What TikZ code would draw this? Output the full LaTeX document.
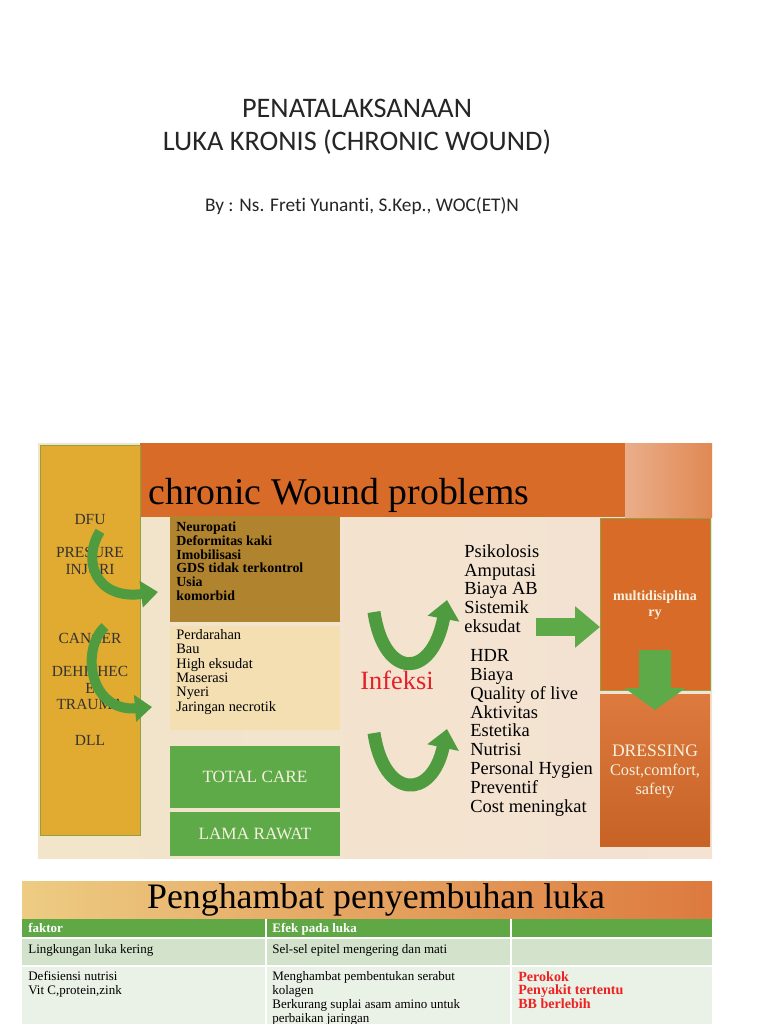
\documentclass[tikz,border=0pt]{standalone}
\usepackage{fontspec}
\setmainfont{Liberation Serif}
\newfontfamily\titlefont[Ligatures=CommonOff]{Carlito}
\usepackage{xcolor}
\usetikzlibrary{arrows.meta, positioning, calc}

\definecolor{hdrorange}{HTML}{D96B29}
\definecolor{colgold}{HTML}{E1AA30}
\definecolor{oliveline}{HTML}{93A042}
\definecolor{boxbrown}{HTML}{B0832F}
\definecolor{boxbeige}{HTML}{F3DFB1}
\definecolor{slidecream}{HTML}{F2E5C9}
\definecolor{slidewhite}{HTML}{F8F5EF}
\definecolor{cardgreen}{HTML}{5EAA48}
\definecolor{cardtext}{HTML}{F4F1DE}
\definecolor{arrowgreen}{HTML}{4F9C40}
\definecolor{infred}{HTML}{E4202B}
\definecolor{tblgreen}{HTML}{5FA845}
\definecolor{rowone}{HTML}{D3E3CB}
\definecolor{rowtwo}{HTML}{EAF1E6}
\definecolor{tblred}{HTML}{EE2222}

\begin{document}
\begin{tikzpicture}[
    x=0.02cm, y=-0.02cm,
    titletext/.style={font=\titlefont\fontsize{16.1}{18.7}\selectfont, align=center, text=black!85},
    bytext/.style={font=\titlefont\fontsize{11}{12}\selectfont, text=black!85},
    panel/.style={inner sep=0, outer sep=0},
    coltext/.style={font=\fontsize{8.8}{9.6}\selectfont, align=center, text=black!80},
    boxtext/.style={font=\fontsize{8.2}{8.2}\selectfont, align=left, anchor=north west, inner sep=0},
    listtext/.style={font=\fontsize{10.5}{10.75}\selectfont, align=left, anchor=north west, inner sep=0},
    cardlabel/.style={font=\fontsize{9.8}{11}\selectfont, text=cardtext},
    curvearrow/.style={draw=arrowgreen, line width=0.2cm, -{Triangle[length=0.34cm, width=0.52cm]}},
    uarrow/.style={draw=arrowgreen, line width=0.26cm, -{Triangle[length=0.38cm, width=0.62cm]}},
    blockarrow/.style={draw=cardgreen, -{Triangle[length=0.5cm, width=0.8cm]}},
    cell/.style={font=\fontsize{7.4}{7.9}\selectfont, align=left, anchor=north west, inner sep=0}
]
\useasboundingbox (0,0) rectangle (768,1024);
\fill[white] (0,0) rectangle (768,1024);

% Title
\node[titletext] (title) at (357,127) {PENATALAKSANAAN\\LUKA KRONIS (CHRONIC WOUND)};
\node[bytext] (author) at (362,206) {By : Ns. Freti Yunanti, S.Kep., WOC(ET)N};

% Slide: chronic wound problems
\shade[left color=slidecream, middle color=slidewhite, right color=hdrorange!14!slidewhite] (38,443) rectangle (712,858);
\shade[left color=hdrorange!55!white, right color=hdrorange!80!white] (625,443) rectangle (712,517);
\node[panel, fill=hdrorange, minimum width=9.7cm, minimum height=1.48cm] (header) at (382.5,480) {};
\node[font=\fontsize{21.5}{23}\selectfont, anchor=west, inner sep=0] (hdrtext) at (148,495) {chronic Wound problems};
\node[panel, fill=colgold, draw=oliveline, line width=0.5pt, minimum width=2cm, minimum height=7.8cm] (leftcol) at (90,640) {};

% left column causes
\node[coltext] (dfu) at (90,520) {DFU};
\node[coltext] (presure) at (90,561) {PRESURE\\INJURI};
\node[coltext] (cancer) at (90,638) {CANCER};
\node[coltext] (dehis) at (90,688) {DEHISHEC\\E\\TRAUMA};
\node[coltext] (dll) at (90,740) {DLL};

% problem boxes
\node[panel, fill=boxbrown, minimum width=3.4cm, minimum height=2.12cm] (box1) at (255,569) {};
\node[boxtext, font=\bfseries\fontsize{7.9}{7.75}\selectfont] (box1text) at (176,522) {Neuropati\\Deformitas kaki\\Imobilisasi\\GDS tidak terkontrol\\Usia\\komorbid};
\node[panel, fill=boxbeige, minimum width=3.4cm, minimum height=2.08cm] (box2) at (255,678) {};
\node[boxtext] (box2text) at (176,629) {Perdarahan\\Bau\\High eksudat\\Maserasi\\Nyeri\\Jaringan necrotik};
\node[panel, fill=cardgreen, minimum width=3.4cm, minimum height=1.24cm] (total) at (255,777) {};
\node[cardlabel] (totaltext) at (total.center) {TOTAL CARE};
\node[panel, fill=cardgreen, minimum width=3.4cm, minimum height=0.88cm] (lama) at (255,834) {};
\node[cardlabel] (lamatext) at (lama.center) {LAMA RAWAT};

% infection and effects
\node[font=\fontsize{15}{16}\selectfont, text=infred] (infeksi) at (397,680) {Infeksi};
\node[listtext] (list1) at (464,544) {Psikolosis\\Amputasi\\Biaya AB\\Sistemik\\eksudat};
\node[listtext] (list2) at (470,649) {HDR\\Biaya\\Quality of live\\Aktivitas\\Estetika\\Nutrisi\\Personal Hygien\\Preventif\\Cost meningkat};

% right column
\node[panel, fill=hdrorange, draw=oliveline, line width=0.5pt, minimum width=2.2cm, minimum height=3.44cm] (multi) at (655,604) {};
\node[font=\bfseries\fontsize{8}{9}\selectfont, text=cardtext, align=center] (multitext) at (655,605) {multidisiplina\\ry};
\shade[top color=hdrorange!90!white, bottom color=hdrorange!92!black] (600,694) rectangle (710,846);
\node[panel, minimum width=2.2cm, minimum height=3.04cm] (dress) at (655,770) {};
\node[font=\fontsize{9.3}{10.8}\selectfont, text=cardtext, align=center] (dresstext) at (655,771) {{\fontsize{10}{10.8}\selectfont DRESSING}\\Cost,comfort,\\safety};

% arrows
\coordinate (tip1) at (158,592);
\coordinate (tip2) at (152,707);
\draw[curvearrow] ([xshift=0.2cm]dfu.south) .. controls (82,560) and (95,600) .. (tip1);
\draw[curvearrow] ([xshift=0.3cm]cancer.north) .. controls (80,650) and (90,712) .. (tip2);
\coordinate (u1) at (374,612);
\coordinate (u1tip) at (447,600);
\coordinate (u2) at (374,733);
\coordinate (u2tip) at (447,729);
\draw[uarrow] (u1) .. controls (384,680) and (432,680) .. (u1tip);
\draw[uarrow] (u2) .. controls (384,800) and (432,800) .. (u2tip);
\coordinate (rarr) at (536,627);
\draw[blockarrow, line width=0.36cm] (rarr) -- (multi.west |- rarr);
\draw[blockarrow, line width=0.64cm, -{Triangle[length=0.44cm, width=1.2cm]}] ([yshift=0.8cm]multi.south) -- ([yshift=-0.32cm]dress.north);

% Slide: penghambat penyembuhan luka
\shade[left color=colgold!60!white, middle color=white, right color=hdrorange!90!white] (22,881) rectangle (712,918);
\node[font=\fontsize{20.4}{22}\selectfont, inner sep=0] (tbltitle) at (376,900) {Penghambat penyembuhan luka};
\fill[tblgreen] (22,919) rectangle (712,937);
\fill[rowone] (22,939) rectangle (712,965);
\fill[rowtwo] (22,967) rectangle (712,1024);
\draw[white, line width=0.8pt] (266,919) -- (266,1024) (511,919) -- (511,1024);
\node[cell, font=\bfseries\fontsize{7.4}{7.9}\selectfont, text=white] (faktor) at (28,923) {faktor};
\node[cell, font=\bfseries\fontsize{7.4}{7.9}\selectfont, text=white] (efek) at (272,923) {Efek pada luka};
\node[cell] (kering) at (28,944) {Lingkungan luka kering};
\node[cell] (epitel) at (272,944) {Sel-sel epitel mengering dan mati};
\node[cell] (nutrisi) at (28,971) {Defisiensi nutrisi\\Vit C,protein,zink};
\node[cell] (kolagen) at (272,971) {Menghambat pembentukan serabut\\kolagen\\Berkurang suplai asam amino untuk\\perbaikan jaringan};
\node[cell, font=\bfseries\fontsize{8}{7.9}\selectfont, text=tblred] (lain) at (518,971) {Perokok\\Penyakit tertentu\\BB berlebih};

\end{tikzpicture}
\end{document}
